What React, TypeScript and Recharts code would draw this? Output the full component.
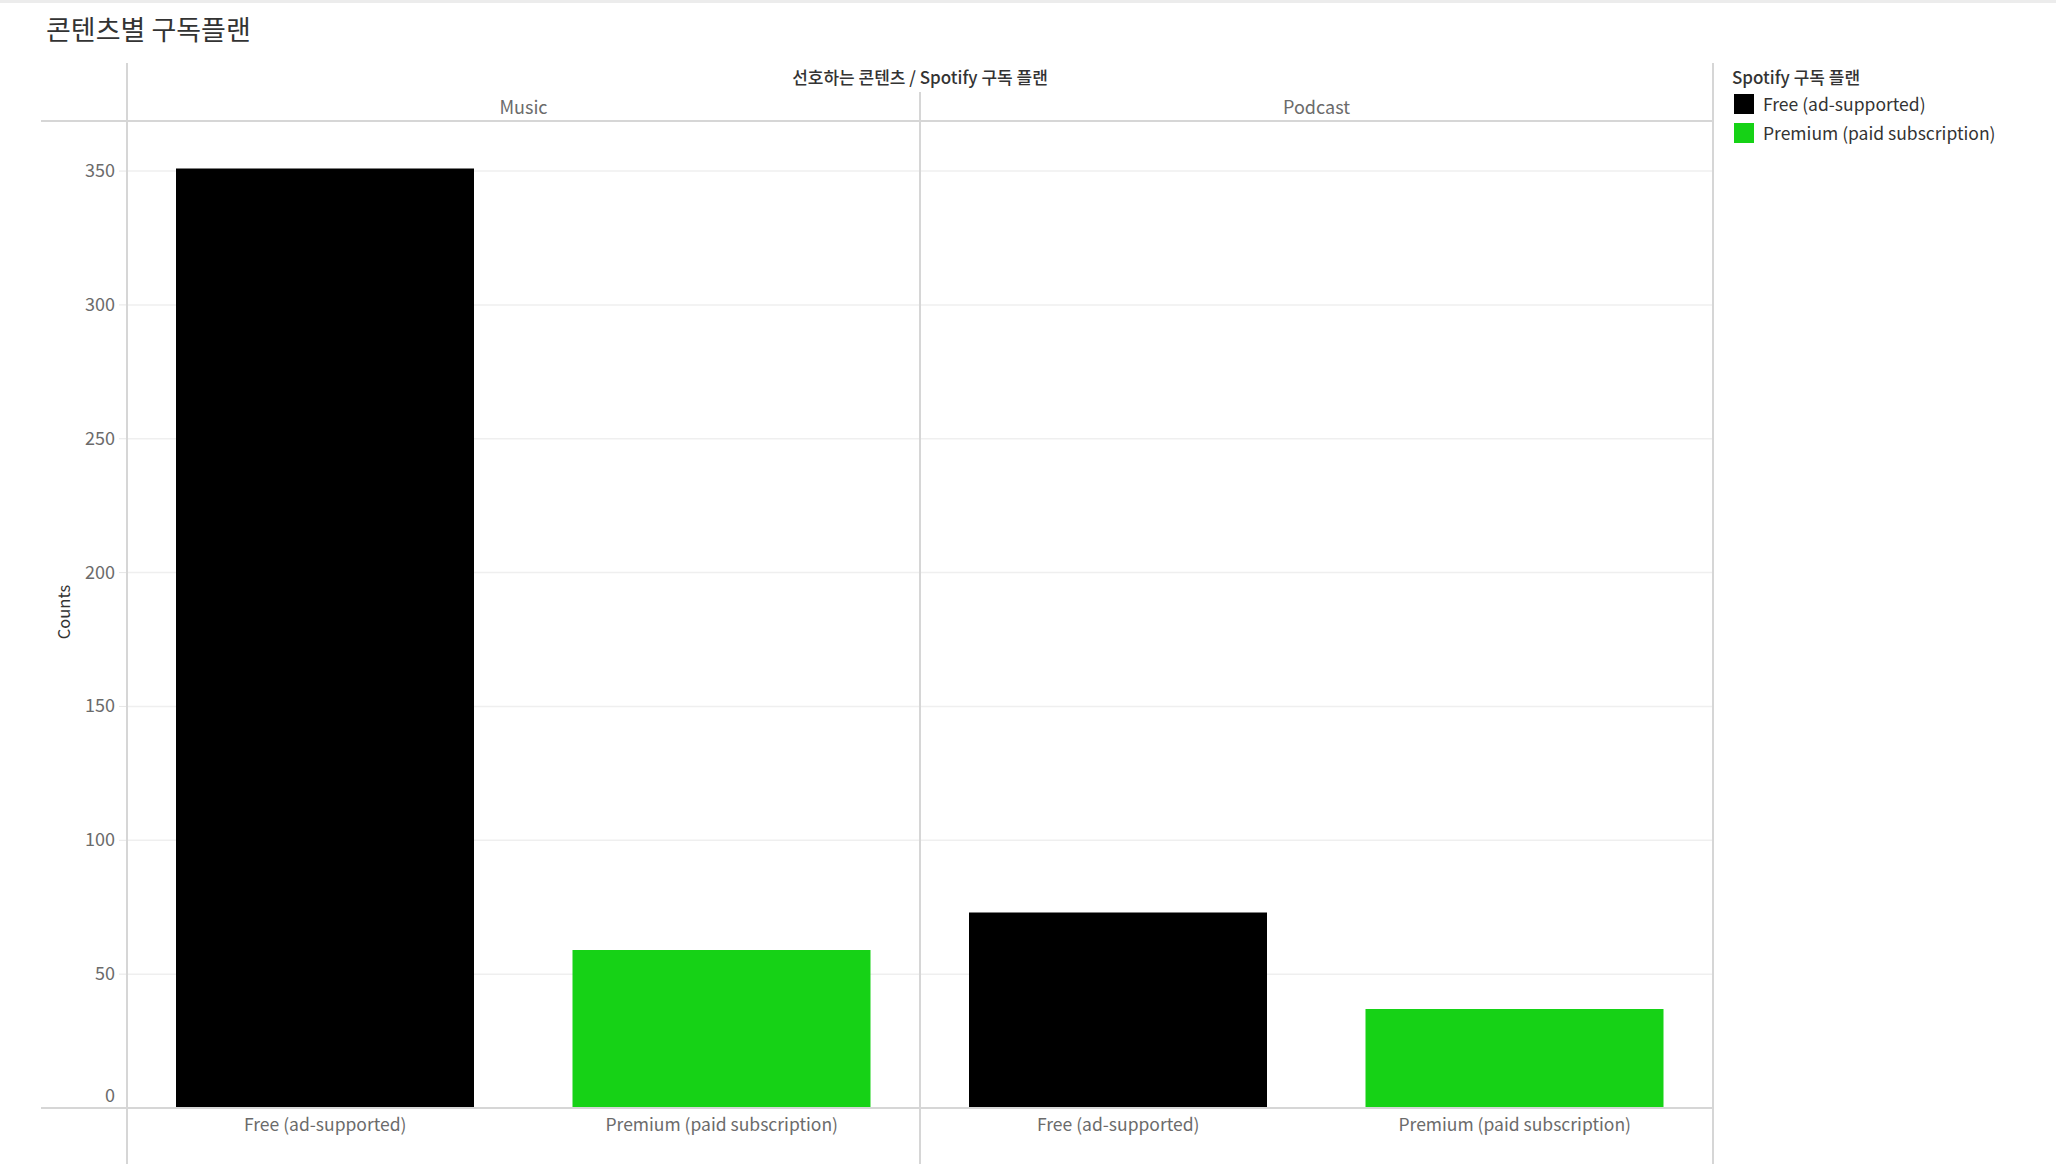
import React from 'react'
import { BarChart, Bar, XAxis, YAxis, CartesianGrid, Cell } from 'recharts'

const CONTENTS = ['Music', 'Podcast']
const PLANS = ['Free (ad-supported)', 'Premium (paid subscription)']
const PLAN_COLORS = ['#000000', '#16d216']
const MUSIC_COUNTS = [351, 59]
const PODCAST_COUNTS = [73, 37]
const Y_TICKS = [0, 50, 100, 150, 200, 250, 300, 350]

const FONT = '"Noto Sans CJK KR", "Noto Sans", sans-serif'
const LINE = '#d6d6d6'

const chartData = [
    ...PLANS.map((plan, i) => ({ content: CONTENTS[0], plan, count: MUSIC_COUNTS[i], color: PLAN_COLORS[i] })),
    ...PLANS.map((plan, i) => ({ content: CONTENTS[1], plan, count: PODCAST_COUNTS[i], color: PLAN_COLORS[i] })),
]

function YTick({ x, y, payload }: any) {
    // tableau nudges the zero label above the baseline
    const dy = payload.value === 0 ? -6 : 6
    return (
        <text x={x} y={y} dy={dy} textAnchor="end" fill="#6b6b6b" fontSize={18}>
            {payload.value}
        </text>
    )
}

function Rule({ left, top, width, height }: { left: number, top: number, width: number, height: number }) {
    return <div style={{ position: 'absolute', left, top, width, height, background: LINE }} />
}

function App() {
    return (
        <div style={{ position: 'absolute', left: 0, top: 0, width: 2056, height: 1164, background: '#fff', fontFamily: FONT, overflow: 'hidden' }}>
            <div style={{ position: 'absolute', left: 0, top: 0, width: 2056, height: 3, background: '#ececec' }} />
            <div style={{ position: 'absolute', left: 46, top: 11, lineHeight: '36px', fontSize: 27, color: '#333' }}>
                콘텐츠별 구독플랜
            </div>
            <div style={{ position: 'absolute', left: 127, width: 1586, top: 64, lineHeight: '26px', fontSize: 17, color: '#333', textAlign: 'center', fontWeight: 500 }}>
                선호하는 콘텐츠 / Spotify 구독 플랜
            </div>
            <div style={{ position: 'absolute', left: 13, top: 597, width: 100, lineHeight: '30px', textAlign: 'center', fontSize: 16.5, color: '#333', transform: 'rotate(-90deg)' }}>
                Counts
            </div>

            <div style={{ position: 'absolute', left: 0, top: 0 }}>
                <BarChart
                    width={2056}
                    height={1164}
                    data={chartData}
                    margin={{ top: 91, right: 343, bottom: 16, left: 41 }}
                    style={{ fontFamily: FONT }}
                >
                    <CartesianGrid vertical={false} stroke="#efefef" strokeWidth={1.5} />
                    <XAxis
                        dataKey="plan"
                        axisLine={false}
                        tickLine={false}
                        tickMargin={5}
                        height={40}
                        interval={0}
                        tick={{ fill: '#6b6b6b', fontSize: 17.5 }}
                    />
                    <XAxis
                        xAxisId="facet"
                        dataKey="content"
                        orientation="top"
                        allowDuplicatedCategory={false}
                        axisLine={false}
                        tickLine={false}
                        tickMargin={1}
                        height={30}
                        interval={0}
                        tick={{ fill: '#6b6b6b', fontSize: 18 }}
                    />
                    <YAxis
                        width={86}
                        domain={[0, 368.7]}
                        ticks={Y_TICKS}
                        axisLine={false}
                        tickLine={{ stroke: '#e6e6e6' }}
                        tickSize={8}
                        tickMargin={4}
                        tick={<YTick />}
                    />
                    <Bar dataKey="count" barSize={298} isAnimationActive={false}>
                        {chartData.map((d, i) => (
                            <Cell key={`cell-${i}`} fill={d.color} />
                        ))}
                    </Bar>
                </BarChart>
            </div>

            {/* pane borders */}
            <Rule left={126} top={63} width={2} height={1101} />
            <Rule left={919} top={92} width={2} height={1072} />
            <Rule left={1712} top={63} width={2} height={1101} />
            <Rule left={41} top={120} width={1673} height={2} />
            <Rule left={41} top={1107} width={1673} height={2} />

            {/* legend */}
            <div style={{ position: 'absolute', left: 1732, top: 64, color: '#333' }}>
                <div style={{ fontSize: 17, lineHeight: '26px', fontWeight: 500 }}>Spotify 구독 플랜</div>
                {PLANS.map((plan, i) => (
                    <div key={plan} style={{ display: 'flex', alignItems: 'center', height: 29, marginTop: i === 0 ? -1 : 0, fontSize: 17.5 }}>
                        <span style={{ width: 20, height: 20, background: PLAN_COLORS[i], marginLeft: 2, marginRight: 9 }} />
                        {plan}
                    </div>
                ))}
            </div>
        </div>
    )
}

export default App
